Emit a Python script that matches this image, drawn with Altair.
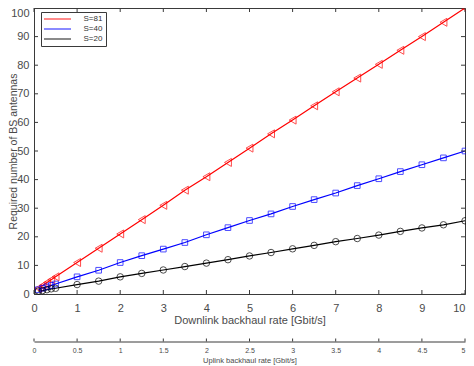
import altair as alt
import pandas as pd

downlink = [0.1, 0.2, 0.3, 0.4, 0.5, 1.0, 1.5, 2.0, 2.5, 3.0, 3.5, 4.0, 4.5, 5.0,
            5.5, 6.0, 6.5, 7.0, 7.5, 8.0, 8.5, 9.0, 9.5, 10.0]
s81 = [2, 3, 4, 5, 6, 11, 16, 21, 26, 31, 36.3, 41, 46, 51, 56, 60.8, 65.8, 70.7,
       75.5, 80.3, 85.2, 90, 95, 100]
s40 = [1.5, 2, 2.5, 3, 3.5, 6, 8.3, 11, 13.4, 15.7, 18, 20.7, 23.2, 25.7, 28, 30.6,
       33, 35.3, 37.9, 40.3, 42.8, 45.2, 47.6, 50]
s20 = [1, 1.2, 1.5, 1.8, 2, 3.3, 4.5, 6, 7.2, 8.4, 9.6, 10.8, 12, 13.3, 14.5, 15.8,
       17, 18.3, 19.4, 20.6, 21.9, 23.1, 24.2, 25.6]
series_names = ["S=81", "S=40", "S=20"]
series_colors = ["#ff0000", "#0000ff", "#000000"]
series_shapes = ["triangle-left", "square", "circle"]
series_sizes = [64, 32, 42]
x_ticks = list(range(0, 11))
y_ticks = list(range(0, 101, 10))
uplink_ticks = [0, 0.5, 1, 1.5, 2, 2.5, 3, 3.5, 4, 4.5, 5]

W, H = 431, 286
OFF = 47.5
SVG_H = 358
AX = "#3a3a3a"
LB = "#4a4a4a"
F = "Liberation Sans"

rows = []
for name, col, shp, sz, vals in zip(series_names, series_colors, series_shapes,
                                    series_sizes, [s81, s40, s20]):
    for d, v in zip(downlink, vals):
        rows.append({"dl": d, "val": v, "series": name, "col": col, "shp": shp, "sz": sz})
df = pd.DataFrame(rows)

xscale = alt.Scale(domain=[0, 10], nice=False, zero=False)
yscale = alt.Scale(domain=[0, 100], nice=False)
cscale = alt.Scale(domain=series_names, range=series_colors)

xaxis = alt.Axis(values=x_ticks, title="Downlink backhaul rate [Gbit/s]",
                 ticks=False, tickSize=0, grid=False, labelPadding=8,
                 titlePadding=1, format="d", labelOverlap=False, labelFlush=False,
                 labelAlign={"condition": {"test": "datum.value == 10", "value": "right"},
                             "value": "center"})
yaxis = alt.Axis(values=y_ticks, title="Required number of BS antennas",
                 ticks=False, tickSize=0, grid=False, labelPadding=5,
                 labelOverlap=False, labelFlush=False, titleFontSize=10.5,
                 tickCount=11,
                 labelOffset={"condition": {"test": "datum.value == 100", "value": 5},
                              "value": 0},
                 titleX=-16, titleY=H / 2, format="d")

line = alt.Chart(df).mark_line(strokeWidth=1.2).encode(
    x=alt.X("dl:Q", scale=xscale, axis=xaxis),
    y=alt.Y("val:Q", scale=yscale, axis=yaxis),
    color=alt.Color("series:N", scale=cscale, sort=series_names,
                    legend=alt.Legend(orient="none", legendX=7, legendY=4, title=None,
                                      strokeColor=AX, fillColor="white", padding=3,
                                      labelFontSize=8, labelFont=F, labelColor="#333",
                                      symbolType="M-4.5,0H4.5", symbolSize=36,
                                      symbolStrokeWidth=1.3, rowPadding=2,
                                      symbolOffset=9.5, labelOffset=22,
                                      cornerRadius=0)),
)

points = alt.Chart(df).mark_point(filled=False, strokeWidth=1).encode(
    x=alt.X("dl:Q", scale=xscale, axis=xaxis),
    y=alt.Y("val:Q", scale=yscale, axis=yaxis),
    color=alt.Color("col:N", scale=None),
    shape=alt.Shape("shp:N", scale=None),
    size=alt.Size("sz:Q", scale=None),
)

xt = pd.DataFrame({"dl": x_ticks})
yt = pd.DataFrame({"val": y_ticks})
tick_b = alt.Chart(xt).mark_rule(color=AX, strokeWidth=1).encode(
    x=alt.X("dl:Q", scale=xscale, axis=xaxis), y=alt.value(H), y2=alt.value(H - 4))
tick_t = alt.Chart(xt).mark_rule(color=AX, strokeWidth=1).encode(
    x=alt.X("dl:Q", scale=xscale, axis=xaxis), y=alt.value(0), y2=alt.value(4))
tick_l = alt.Chart(yt).mark_rule(color=AX, strokeWidth=1).encode(
    y=alt.Y("val:Q", scale=yscale, axis=yaxis), x=alt.value(0), x2=alt.value(4))
tick_r = alt.Chart(yt).mark_rule(color=AX, strokeWidth=1).encode(
    y=alt.Y("val:Q", scale=yscale, axis=yaxis), x=alt.value(W), x2=alt.value(W - 4))

main = alt.layer(line, points, tick_b, tick_t, tick_l, tick_r)

ul = pd.DataFrame({"ul": uplink_ticks})
up = alt.Chart(ul).mark_rule(color=AX, strokeWidth=1).encode(
    x=alt.X("ul:Q", scale=alt.Scale(domain=[0, 5], nice=False, zero=False),
            axis=alt.Axis(orient="bottom", offset=OFF, values=uplink_ticks,
                          ticks=False, tickSize=0, grid=False, format="~g",
                          labelFontSize=7, labelPadding=5, labelOverlap=False,
                          labelFlush=False,
                          labelAlign={"condition": {"test": "datum.value == 5",
                                                    "value": "right"},
                                      "value": "center"},
                          title="Uplink backhaul rate [Gbit/s]", titleFontSize=7.5,
                          titlePadding=2.5)),
    y=alt.value(H + OFF - 3), y2=alt.value(H + OFF),
)

chart = alt.layer(main, up).resolve_scale(x="independent").properties(
    width=W, height=H,
    autosize=alt.AutoSizeParams(type="none"),
    padding={"left": 26, "top": 0, "right": 1, "bottom": SVG_H - H},
).configure_view(stroke=AX, strokeWidth=1).configure_axis(
    domainColor=AX, domainWidth=1, labelColor=LB, titleColor=LB, labelFont=F,
    titleFont=F, labelFontSize=11, titleFontSize=11, titleFontWeight="normal",
)

chart.save("out.html", embed_options={"renderer": "svg", "actions": False})
